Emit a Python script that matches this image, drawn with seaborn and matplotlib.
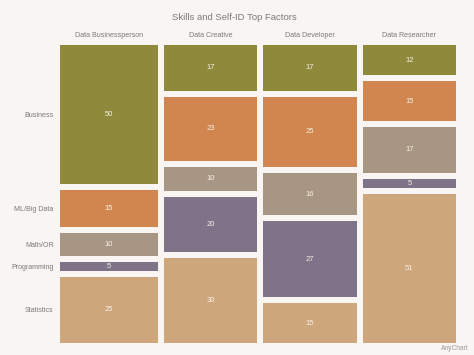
import numpy as np
import pandas as pd
import matplotlib
matplotlib.use('Agg')
import matplotlib.pyplot as plt
import seaborn as sns

# datos del grafico mosaico
perfiles = ['Data Businessperson', 'Data Creative', 'Data Developer', 'Data Researcher']
habilidades = ['Business', 'ML/Big Data', 'Math/OR', 'Programming', 'Statistics']
businessperson = [50, 15, 10, 5, 25]
creative = [17, 23, 10, 20, 30]
developer = [17, 25, 16, 27, 15]
researcher = [12, 15, 17, 5, 51]

colores = ['#8f8a3b', '#d0864e', '#a89684', '#7e7389', '#cda67c']
fondo = '#f8f5f3'

sns.set_theme(style='white')
plt.rcParams['font.family'] = ['Liberation Sans', 'DejaVu Sans']

valores = [businessperson, creative, developer, researcher]
filas = []
x0 = 0
for perfil, vals in zip(perfiles, valores):
    total = sum(vals)
    y0 = 0
    for hab, v in zip(habilidades, vals):
        filas.append({'perfil': perfil, 'habilidad': hab, 'valor': v,
                      'x0': x0, 'ancho': total, 'y0': y0, 'alto': v / total})
        y0 += v / total
    x0 += total
df = pd.DataFrame(filas)

fig = plt.figure(figsize=(4.74, 3.55), dpi=100, facecolor=fondo)
ax = fig.add_axes([57 / 474, 9 / 355, 402 / 474, 304 / 355])
ax.set_facecolor(fondo)

paleta = dict(zip(habilidades, colores))
ax.bar(df['x0'], df['alto'], width=df['ancho'], bottom=df['y0'], align='edge',
       color=[paleta[h] for h in df['habilidad']], edgecolor=fondo, linewidth=4.32)

for _, r in df.iterrows():
    ax.text(r['x0'] + r['ancho'] / 2, r['y0'] + r['alto'] / 2, str(r['valor']),
            ha='center', va='center', fontsize=5.5, color='#f6f1e6')

ax.set_xlim(0, x0)
ax.set_ylim(1, 0)

primera = df[df['perfil'] == perfiles[0]]
ax.set_yticks(primera['y0'] + primera['alto'] / 2)
ax.set_yticklabels(habilidades)
centros = df.drop_duplicates('perfil')
ax.set_xticks(centros['x0'] + centros['ancho'] / 2)
ax.set_xticklabels(perfiles)
ax.xaxis.tick_top()
ax.tick_params(length=0, labelsize=5.1, labelcolor='#7a7a7a', pad=2.5)
for s in ax.spines.values():
    s.set_visible(False)

fig.text(234 / 474, 1 - 17 / 355, 'Skills and Self-ID Top Factors',
         ha='center', va='center', fontsize=6.8, color='#7a7a7a')
fig.text(469 / 474, 1 - 348 / 355, 'AnyChart', ha='right', va='center',
         fontsize=4.8, color='#9a9a9a')

fig.savefig('out.png', dpi=100, facecolor=fondo)
